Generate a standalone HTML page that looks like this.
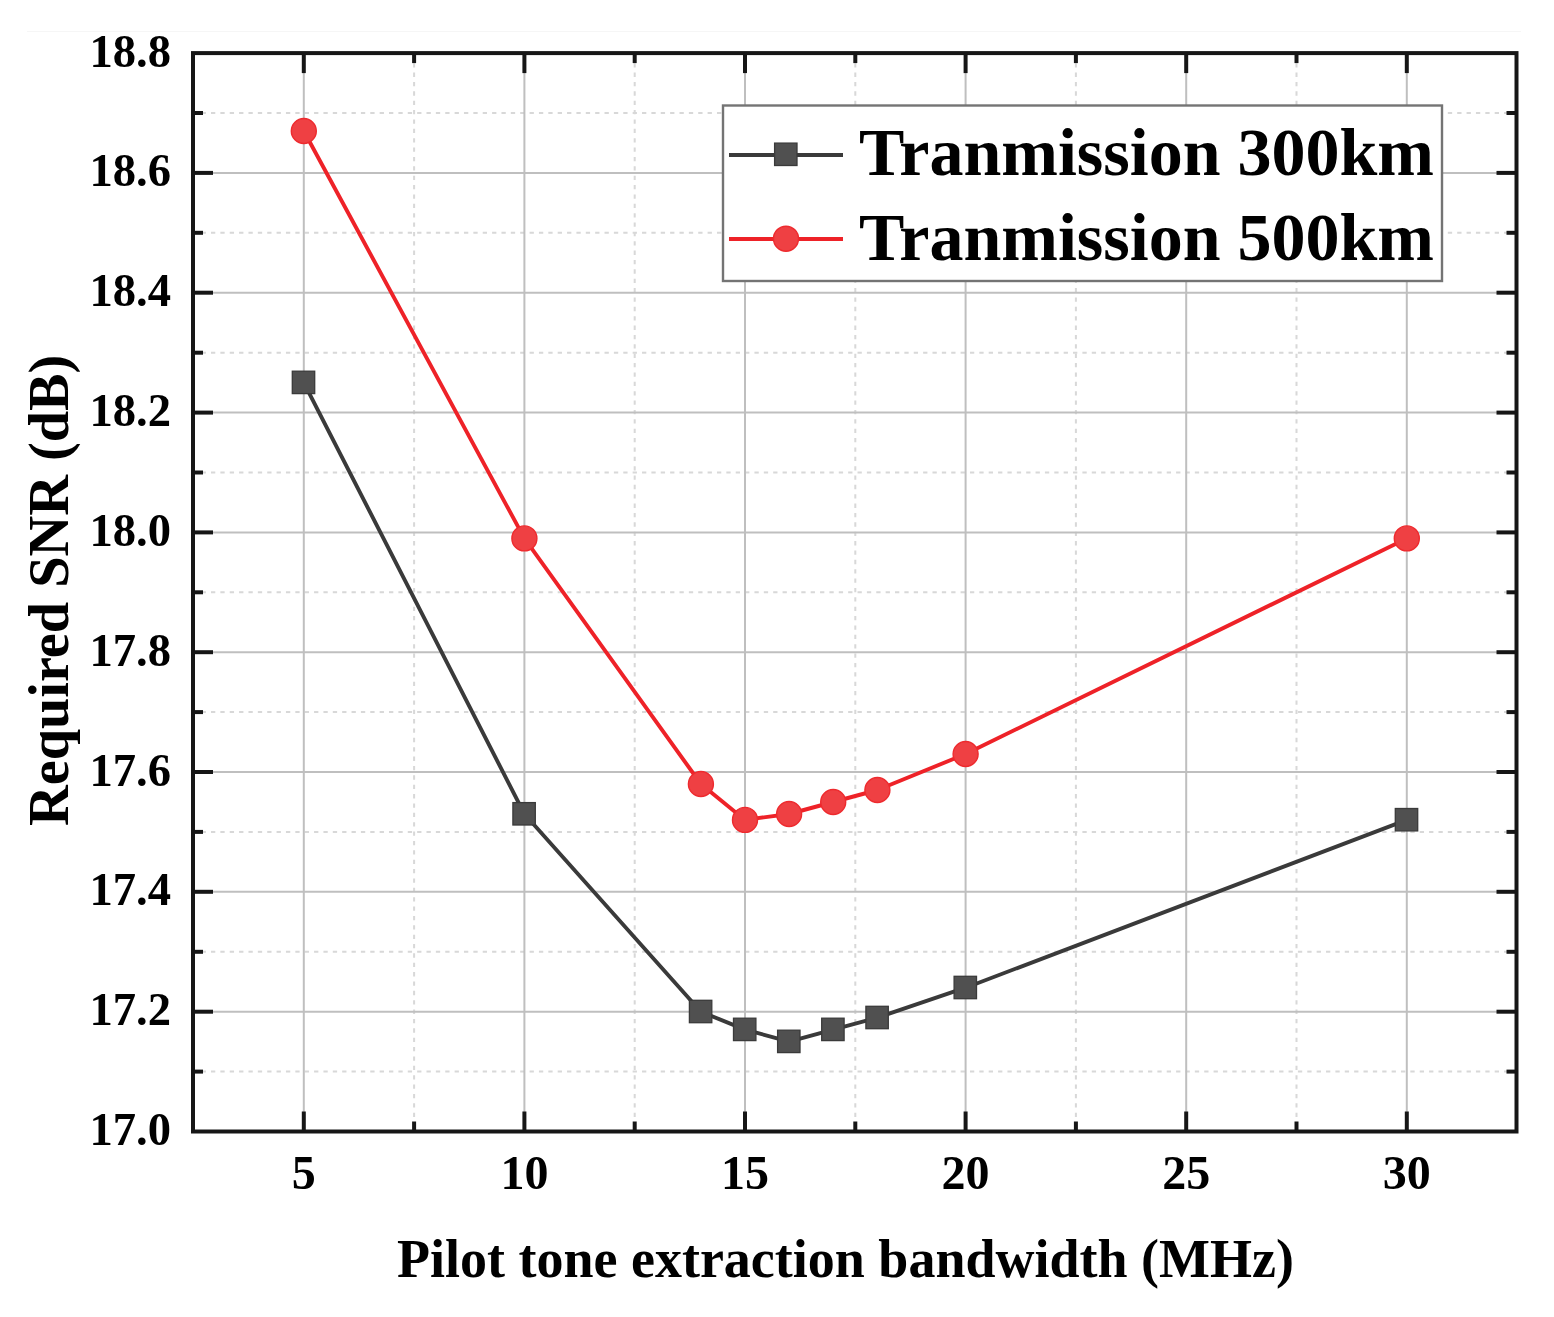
<!DOCTYPE html>
<html><head><meta charset="utf-8"><title>Required SNR vs Pilot tone extraction bandwidth</title>
<style>html,body{margin:0;padding:0;background:#fff;}svg{display:block;filter:blur(0.5px);}</style>
</head><body>
<svg width="1554" height="1317" viewBox="0 0 1554 1317">
<rect width="1554" height="1317" fill="#fff"/>
<line x1="27" y1="31.5" x2="1521" y2="31.5" stroke="#f6f6f6" stroke-width="1.2"/>
<g stroke="#d8d8d8" stroke-width="2" stroke-dasharray="4.3 5.07"><line x1="193.0" y1="1071.6" x2="1516.5" y2="1071.6" stroke-dashoffset="0.75"/><line x1="193.0" y1="951.8" x2="1516.5" y2="951.8" stroke-dashoffset="0.75"/><line x1="193.0" y1="831.9" x2="1516.5" y2="831.9" stroke-dashoffset="0.75"/><line x1="193.0" y1="712.1" x2="1516.5" y2="712.1" stroke-dashoffset="0.75"/><line x1="193.0" y1="592.3" x2="1516.5" y2="592.3" stroke-dashoffset="0.75"/><line x1="193.0" y1="472.5" x2="1516.5" y2="472.5" stroke-dashoffset="0.75"/><line x1="193.0" y1="352.7" x2="1516.5" y2="352.7" stroke-dashoffset="0.75"/><line x1="193.0" y1="232.8" x2="1516.5" y2="232.8" stroke-dashoffset="0.75"/><line x1="193.0" y1="113.0" x2="1516.5" y2="113.0" stroke-dashoffset="0.75"/><line x1="414.1" y1="53.1" x2="414.1" y2="1131.5" stroke-dashoffset="-0.75"/><line x1="634.7" y1="53.1" x2="634.7" y2="1131.5" stroke-dashoffset="-0.75"/><line x1="855.3" y1="53.1" x2="855.3" y2="1131.5" stroke-dashoffset="-0.75"/><line x1="1075.9" y1="53.1" x2="1075.9" y2="1131.5" stroke-dashoffset="-0.75"/><line x1="1296.5" y1="53.1" x2="1296.5" y2="1131.5" stroke-dashoffset="-0.75"/></g>
<g stroke="#bfbfbf" stroke-width="2"><line x1="193.0" y1="1011.7" x2="1516.5" y2="1011.7"/><line x1="193.0" y1="891.8" x2="1516.5" y2="891.8"/><line x1="193.0" y1="772.0" x2="1516.5" y2="772.0"/><line x1="193.0" y1="652.2" x2="1516.5" y2="652.2"/><line x1="193.0" y1="532.4" x2="1516.5" y2="532.4"/><line x1="193.0" y1="412.6" x2="1516.5" y2="412.6"/><line x1="193.0" y1="292.7" x2="1516.5" y2="292.7"/><line x1="193.0" y1="172.9" x2="1516.5" y2="172.9"/><line x1="303.8" y1="53.1" x2="303.8" y2="1131.5"/><line x1="524.4" y1="53.1" x2="524.4" y2="1131.5"/><line x1="745.0" y1="53.1" x2="745.0" y2="1131.5"/><line x1="965.6" y1="53.1" x2="965.6" y2="1131.5"/><line x1="1186.2" y1="53.1" x2="1186.2" y2="1131.5"/><line x1="1406.8" y1="53.1" x2="1406.8" y2="1131.5"/></g>
<polyline points="303.8,382.6 524.4,814.0 700.9,1011.7 745.0,1029.6 789.1,1041.6 833.2,1029.6 877.4,1017.7 965.6,987.7 1406.8,819.9" fill="none" stroke="#3a3a3a" stroke-width="3.9" stroke-linejoin="round"/>
<polyline points="303.8,131.0 524.4,538.4 700.9,784.0 745.0,819.9 789.1,814.0 833.2,802.0 877.4,790.0 965.6,754.0 1406.8,538.4" fill="none" stroke="#ee2228" stroke-width="3.9" stroke-linejoin="round"/>
<g fill="#505050" stroke="#3a3a3a" stroke-width="1.3"><rect x="292.3" y="371.2" width="22.4" height="22.4"/><rect x="512.9" y="802.6" width="22.4" height="22.4"/><rect x="689.4" y="1000.3" width="22.4" height="22.4"/><rect x="733.5" y="1018.2" width="22.4" height="22.4"/><rect x="777.6" y="1030.2" width="22.4" height="22.4"/><rect x="821.7" y="1018.2" width="22.4" height="22.4"/><rect x="865.9" y="1006.3" width="22.4" height="22.4"/><rect x="954.1" y="976.3" width="22.4" height="22.4"/><rect x="1395.3" y="808.5" width="22.4" height="22.4"/></g>
<g fill="#ef4043" stroke="#ee2a2e" stroke-width="1.4"><circle cx="303.8" cy="131.0" r="12.5"/><circle cx="524.4" cy="538.4" r="12.5"/><circle cx="700.9" cy="784.0" r="12.5"/><circle cx="745.0" cy="819.9" r="12.5"/><circle cx="789.1" cy="814.0" r="12.5"/><circle cx="833.2" cy="802.0" r="12.5"/><circle cx="877.4" cy="790.0" r="12.5"/><circle cx="965.6" cy="754.0" r="12.5"/><circle cx="1406.8" cy="538.4" r="12.5"/></g>
<g stroke="#161616" stroke-width="4"><line x1="303.8" y1="1131.5" x2="303.8" y2="1111.5"/><line x1="303.8" y1="53.1" x2="303.8" y2="73.1"/><line x1="524.4" y1="1131.5" x2="524.4" y2="1111.5"/><line x1="524.4" y1="53.1" x2="524.4" y2="73.1"/><line x1="745.0" y1="1131.5" x2="745.0" y2="1111.5"/><line x1="745.0" y1="53.1" x2="745.0" y2="73.1"/><line x1="965.6" y1="1131.5" x2="965.6" y2="1111.5"/><line x1="965.6" y1="53.1" x2="965.6" y2="73.1"/><line x1="1186.2" y1="1131.5" x2="1186.2" y2="1111.5"/><line x1="1186.2" y1="53.1" x2="1186.2" y2="73.1"/><line x1="1406.8" y1="1131.5" x2="1406.8" y2="1111.5"/><line x1="1406.8" y1="53.1" x2="1406.8" y2="73.1"/><line x1="414.1" y1="1131.5" x2="414.1" y2="1121.5"/><line x1="414.1" y1="53.1" x2="414.1" y2="63.1"/><line x1="634.7" y1="1131.5" x2="634.7" y2="1121.5"/><line x1="634.7" y1="53.1" x2="634.7" y2="63.1"/><line x1="855.3" y1="1131.5" x2="855.3" y2="1121.5"/><line x1="855.3" y1="53.1" x2="855.3" y2="63.1"/><line x1="1075.9" y1="1131.5" x2="1075.9" y2="1121.5"/><line x1="1075.9" y1="53.1" x2="1075.9" y2="63.1"/><line x1="1296.5" y1="1131.5" x2="1296.5" y2="1121.5"/><line x1="1296.5" y1="53.1" x2="1296.5" y2="63.1"/><line x1="193.0" y1="1071.6" x2="203.0" y2="1071.6"/><line x1="1516.5" y1="1071.6" x2="1506.5" y2="1071.6"/><line x1="193.0" y1="1011.7" x2="213.0" y2="1011.7"/><line x1="1516.5" y1="1011.7" x2="1496.5" y2="1011.7"/><line x1="193.0" y1="951.8" x2="203.0" y2="951.8"/><line x1="1516.5" y1="951.8" x2="1506.5" y2="951.8"/><line x1="193.0" y1="891.8" x2="213.0" y2="891.8"/><line x1="1516.5" y1="891.8" x2="1496.5" y2="891.8"/><line x1="193.0" y1="831.9" x2="203.0" y2="831.9"/><line x1="1516.5" y1="831.9" x2="1506.5" y2="831.9"/><line x1="193.0" y1="772.0" x2="213.0" y2="772.0"/><line x1="1516.5" y1="772.0" x2="1496.5" y2="772.0"/><line x1="193.0" y1="712.1" x2="203.0" y2="712.1"/><line x1="1516.5" y1="712.1" x2="1506.5" y2="712.1"/><line x1="193.0" y1="652.2" x2="213.0" y2="652.2"/><line x1="1516.5" y1="652.2" x2="1496.5" y2="652.2"/><line x1="193.0" y1="592.3" x2="203.0" y2="592.3"/><line x1="1516.5" y1="592.3" x2="1506.5" y2="592.3"/><line x1="193.0" y1="532.4" x2="213.0" y2="532.4"/><line x1="1516.5" y1="532.4" x2="1496.5" y2="532.4"/><line x1="193.0" y1="472.5" x2="203.0" y2="472.5"/><line x1="1516.5" y1="472.5" x2="1506.5" y2="472.5"/><line x1="193.0" y1="412.6" x2="213.0" y2="412.6"/><line x1="1516.5" y1="412.6" x2="1496.5" y2="412.6"/><line x1="193.0" y1="352.7" x2="203.0" y2="352.7"/><line x1="1516.5" y1="352.7" x2="1506.5" y2="352.7"/><line x1="193.0" y1="292.7" x2="213.0" y2="292.7"/><line x1="1516.5" y1="292.7" x2="1496.5" y2="292.7"/><line x1="193.0" y1="232.8" x2="203.0" y2="232.8"/><line x1="1516.5" y1="232.8" x2="1506.5" y2="232.8"/><line x1="193.0" y1="172.9" x2="213.0" y2="172.9"/><line x1="1516.5" y1="172.9" x2="1496.5" y2="172.9"/><line x1="193.0" y1="113.0" x2="203.0" y2="113.0"/><line x1="1516.5" y1="113.0" x2="1506.5" y2="113.0"/></g>
<rect x="193.0" y="53.1" width="1323.5" height="1078.4" fill="none" stroke="#161616" stroke-width="4"/>
<rect x="723" y="105.5" width="719" height="175.5" fill="#fff" stroke="#747474" stroke-width="2.4"/>
<line x1="729" y1="155" x2="843" y2="155" stroke="#3a3a3a" stroke-width="3.9"/>
<rect x="774.6" y="143.1" width="22.4" height="22.4" fill="#505050" stroke="#3a3a3a" stroke-width="1.3"/>
<line x1="729" y1="239" x2="843" y2="239" stroke="#ee2228" stroke-width="3.9"/>
<circle cx="786" cy="238.7" r="12.5" fill="#ef4043" stroke="#ee2a2e" stroke-width="1.4"/>
<g font-family="Liberation Serif, serif" font-weight="bold" fill="#000">
<text x="859" y="175" font-size="68">Tranmission 300km</text>
<text x="859" y="259.5" font-size="68">Tranmission 500km</text>
<text x="171" y="1145.0" font-size="46.6" text-anchor="end">17.0</text>
<text x="171" y="1025.2" font-size="46.6" text-anchor="end">17.2</text>
<text x="171" y="905.3" font-size="46.6" text-anchor="end">17.4</text>
<text x="171" y="785.5" font-size="46.6" text-anchor="end">17.6</text>
<text x="171" y="665.7" font-size="46.6" text-anchor="end">17.8</text>
<text x="171" y="545.9" font-size="46.6" text-anchor="end">18.0</text>
<text x="171" y="426.1" font-size="46.6" text-anchor="end">18.2</text>
<text x="171" y="306.2" font-size="46.6" text-anchor="end">18.4</text>
<text x="171" y="186.4" font-size="46.6" text-anchor="end">18.6</text>
<text x="171" y="66.6" font-size="46.6" text-anchor="end">18.8</text>
<text x="303.8" y="1189" font-size="48" text-anchor="middle">5</text>
<text x="524.4" y="1189" font-size="48" text-anchor="middle">10</text>
<text x="745.0" y="1189" font-size="48" text-anchor="middle">15</text>
<text x="965.6" y="1189" font-size="48" text-anchor="middle">20</text>
<text x="1186.2" y="1189" font-size="48" text-anchor="middle">25</text>
<text x="1406.8" y="1189" font-size="48" text-anchor="middle">30</text>
<text x="397" y="1276.5" font-size="54">Pilot tone extraction bandwidth (MHz)</text>
<text transform="translate(67.8 826) rotate(-90)" font-size="56.3">Required SNR (dB)</text>
</g>
</svg>
</body></html>
